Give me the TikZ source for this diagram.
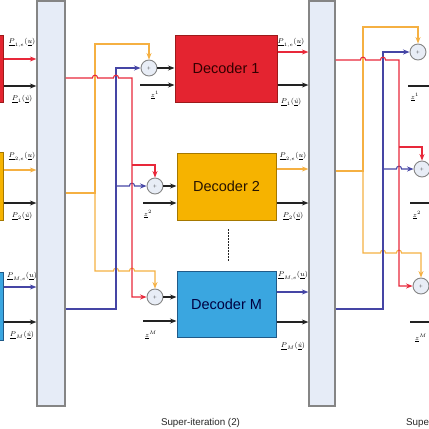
\documentclass[tikz,border=0pt]{standalone}
\usepackage{fontspec}
\setsansfont{Liberation Sans}
\usetikzlibrary{arrows.meta,calc}
\definecolor{cred}{HTML}{E42430}
\definecolor{cdred}{HTML}{9C1A1A}
\definecolor{corg}{HTML}{F6B300}
\definecolor{cdorg}{HTML}{A57800}
\definecolor{cblu}{HTML}{3AA6E0}
\definecolor{cdblu}{HTML}{205A88}
\definecolor{lred}{HTML}{E8283A}
\definecolor{lorg}{HTML}{F5B042}
\definecolor{lblu}{HTML}{4545A5}
\definecolor{lblk}{HTML}{222222}
\definecolor{barfill}{HTML}{E6ECF7}
\definecolor{bardraw}{HTML}{858585}
\definecolor{sumfill}{HTML}{E8EDF6}
\newcommand\uhat{\underline{\mbox{\itshape û}}}
\begin{document}
\begin{tikzpicture}[x=1pt,y=-1pt,
  line join=miter,
  tip/.style={-{Stealth[length=6.5pt,width=5pt]}},
  ln/.style={line width=1.1pt},
  redl/.style={ln,draw=lred},
  orgl/.style={ln,draw=lorg},
  blul/.style={ln,draw=lblu},
  blkl/.style={ln,draw=lblk},
  redarr/.style={redl,tip},
  orgarr/.style={orgl,tip},
  bluarr/.style={blul,tip},
  blkarr/.style={blkl,tip},
  bar/.style={draw=bardraw,fill=barfill,line width=1.2pt,inner sep=0,minimum width=28pt,minimum height=405pt},
  dec/.style={line width=1pt,inner sep=0,minimum width=99pt,minimum height=67pt,font=\sffamily\fontsize{14.5}{16}\selectfont},
  sum/.style={circle,draw=bardraw,fill=sumfill,line width=0.9pt,minimum size=16pt,inner sep=0,font=\fontsize{4}{4}\selectfont},
  lbl/.style={inner sep=0,font=\fontsize{6.6}{8}\selectfont},
  captext/.style={inner sep=0,font=\sffamily\fontsize{9.8}{11}\selectfont,text=black!85},
  jmp/.style 2 args={insert path={-- ({#1-2.6},#2) .. controls ({#1-2.6},{#2-3.8}) and ({#1+2.6},{#2-3.8}) .. ({#1+2.6},#2)}}
]
\useasboundingbox (0,0) rectangle (429,429);
\clip (0,0) rectangle (429,429);

% bars
\node[bar] (barL) at (51,203.5) {};
\node[bar,minimum width=26pt] (barR) at (322,203.5) {};

% left (previous) decoders, cropped
\node[draw=cdred,fill=cred,line width=1pt,minimum width=9.5pt,minimum height=67pt,inner sep=0] (L1) at (-1.25,68.5) {};
\node[draw=cdorg,fill=corg,line width=1pt,minimum width=9.5pt,minimum height=68pt,inner sep=0] (L2) at (-1.25,186) {};
\node[draw=cdblu,fill=cblu,line width=1pt,minimum width=9.5pt,minimum height=68pt,inner sep=0] (LM) at (-1.25,306) {};

\draw[redarr] (L1.east |- 0,59) -- (barL.west |- 0,59);
\draw[blkarr] (L1.east |- 0,86) -- (barL.west |- 0,86);
\draw[orgarr] (L2.east |- 0,170) -- (barL.west |- 0,170);
\draw[blkarr] (L2.east |- 0,203) -- (barL.west |- 0,203);
\draw[bluarr] (LM.east |- 0,287) -- (barL.west |- 0,287);
\draw[blkarr] (LM.east |- 0,322) -- (barL.west |- 0,322);

\node[lbl] (tl1a) at (22,43) {$\underline{P}_{1,e}(\underline{u})$};
\node[lbl] (tl1b) at (22,99) {$\underline{P}_{1}(\uhat)$};
\node[lbl] (tl2a) at (22,157) {$\underline{P}_{2,e}(\underline{u})$};
\node[lbl] (tl2b) at (22,216) {$\underline{P}_{2}(\uhat)$};
\node[lbl] (tlMa) at (22,277) {$\underline{P}_{M,e}(\underline{u})$};
\node[lbl] (tlMb) at (22,335) {$\underline{P}_{M}(\uhat)$};

% middle decoders
\node[dec,draw=cdred,fill=cred,minimum width=102pt,text=black!80!red] (D1) at (226,68.5) {Decoder 1};
\node[dec,draw=cdorg,fill=corg,text=black!85!orange] (D2) at (226.5,186.5) {Decoder 2};
\node[dec,draw=cdblu,fill=cblu,minimum height=66pt,text=black!75!blue] (DM) at (226.5,304) {Decoder M};

\coordinate (dA) at (228,229);
\coordinate (dB) at (228,262);
\draw[lblk,line width=0.8pt,dash pattern=on 1.5pt off 1.5pt] (dA) -- (dB);

% sum nodes (middle)
\node[sum] (s1) at (149,68) {+};
\node[sum] (s2) at (155,186) {+};
\node[sum] (sM) at (155,297) {+};

\draw[blkarr] (s1) -- (s1 -| D1.west);
\draw[blkarr] (s2) -- (s2 -| D2.west);
\draw[blkarr] (sM) -- (sM -| DM.west);

\coordinate (z1) at (140,85);
\coordinate (z2) at (143,203);
\coordinate (zM) at (143,321);
\draw[blkarr] (z1) -- (z1 -| D1.west);
\draw[blkarr] (z2) -- (z2 -| D2.west);
\draw[blkarr] (zM) -- (zM -| DM.west);
\node[lbl] (tz1) at (155,95) {$\underline{z}^{1}$};
\node[lbl] (tz2) at (148,214) {$\underline{z}^{2}$};
\node[lbl] (tzM) at (151,335) {$\underline{z}^{M}$};

% left feedback network
\draw[orgarr] (barL.east |- 0,193) -- (95,193) -- (95,44) -- (s1 |- 0,44) -- (s1.north);
\draw[orgarr] (95,193) -- (95,271) [jmp={116}{271}] [jmp={132}{271}] -- (sM |- 0,271) -- (sM.north);
\draw[bluarr] (barL.east |- 0,309) -- (116,309) -- (116,68) -- (s1.west);
\draw[bluarr] (116,186) [jmp={132}{186}] -- (s2.west);
\draw[redarr] (barL.east |- 0,78) [jmp={95}{78}] [jmp={116}{78}] -- (132,78) -- (132,297) -- (sM.west);
\draw[redarr] (132,165) -- (s2 |- 0,165) -- (s2.north);

% outputs of middle decoders
\draw[redarr] (D1.east |- 0,52) -- (barR.west |- 0,52);
\draw[blkarr] (D1.east |- 0,85) -- (barR.west |- 0,85);
\draw[orgarr] (D2.east |- 0,169) -- (barR.west |- 0,169);
\draw[blkarr] (D2.east |- 0,203) -- (barR.west |- 0,203);
\draw[bluarr] (DM.east |- 0,292) -- (barR.west |- 0,292);
\draw[blkarr] (DM.east |- 0,322) -- (barR.west |- 0,322);

\node[lbl] (t1a) at (291,43) {$\underline{P}_{1,e}(\underline{u})$};
\node[lbl] (t1b) at (291,102) {$\underline{P}_{1}(\uhat)$};
\node[lbl] (t2a) at (293,157) {$\underline{P}_{2,e}(\underline{u})$};
\node[lbl] (t2b) at (293,216) {$\underline{P}_{2}(\uhat)$};
\node[lbl] (tMa) at (293,276) {$\underline{P}_{M,e}(\underline{u})$};
\node[lbl] (tMb) at (293,346) {$\underline{P}_{M}(\uhat)$};

% right part (next super-iteration)
\node[sum] (r1) at (418,52) {+};
\node[sum] (r2) at (422,169) {+};
\node[sum] (rM) at (421,286) {+};

\draw[orgarr] (barR.east |- 0,171) -- (363,171) -- (363,27) -- (r1 |- 0,27) -- (r1.north);
\draw[orgarr] (363,171) -- (363,253) [jmp={383}{253}] [jmp={399}{253}] -- (rM |- 0,253) -- (rM.north);
\draw[bluarr] (barR.east |- 0,309) -- (383,309) -- (383,52) -- (r1.west);
\draw[bluarr] (383,169) [jmp={399}{169}] -- (r2.west);
\draw[redarr] (barR.east |- 0,60) [jmp={363}{60}] [jmp={383}{60}] -- (399,60) -- (399,286) -- (rM.west);
\draw[redarr] (399,147) -- (r2 |- 0,147) -- (r2.north);

\coordinate (rz1) at (408,86);
\coordinate (rz2) at (410,203);
\coordinate (rzM) at (410,322);
\coordinate (rz1e) at (440,86);
\coordinate (rz2e) at (440,203);
\coordinate (rzMe) at (440,322);
\draw[blkl] (rz1) -- (rz1e);
\draw[blkl] (rz2) -- (rz2e);
\draw[blkl] (rzM) -- (rzMe);
\node[lbl] (trz1) at (415,97) {$\underline{z}^{1}$};
\node[lbl] (trz2) at (417,215) {$\underline{z}^{2}$};
\node[lbl] (trzM) at (421,338) {$\underline{z}^{M}$};

% captions
\node[captext] (c2) at (200.5,423) {Super-iteration (2)};
\node[captext,anchor=west] (c3) at (406,423) {Super-iteration (3)};
\end{tikzpicture}
\end{document}
